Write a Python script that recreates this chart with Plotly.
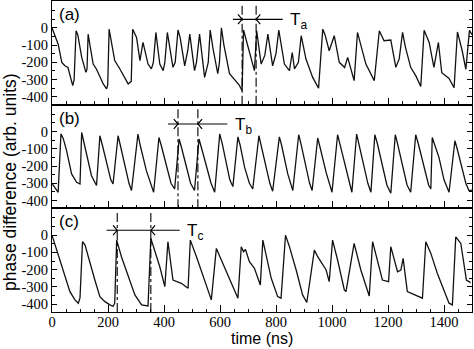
import plotly.graph_objects as go
from plotly.subplots import make_subplots

# ---------------- data (time in ns, phase difference in arb. units) ----------------
pts_a = [(0, 0), (11, -50), (22, -95), (35, -200), (46, -220), (57, -230), (66, -290), (74, -335),
         (79, -300), (86, -17), (92, -40), (106, -170), (121, -258), (125, -240), (129, -37),
         (135, -90), (147, -210), (159, -240), (171, -287), (183, -325), (195, -354), (199, -330),
         (204, -8), (210, -60), (224, -190), (242, -237), (260, -287), (272, -325), (283, -310),
         (288, -8), (302, -56), (314, -190), (325, -85), (343, -210), (355, -238), (362, -200),
         (371, -27), (385, -210), (397, -248), (403, -200), (412, -27), (420, -120), (432, -229),
         (440, -200), (450, -13), (458, -60), (474, -220), (485, -130), (492, -37), (509, -248),
         (516, -200), (527, -37), (533, -130), (545, -287), (558, -200), (565, -13), (575, -120),
         (592, -266), (598, -200), (605, 0), (614, -100), (634, -266), (668, -330), (679, -364),
         (684, -13), (692, -60), (705, -143), (723, -248), (731, -17), (747, -210), (760, -160),
         (771, -37), (788, -220), (800, -150), (810, -13), (818, -90), (830, -210), (848, -248),
         (858, -143), (866, -238), (880, -200), (890, -46), (907, -181), (931, -287), (952, -349),
         (967, -8), (975, -40), (990, -133), (1008, -46), (1026, -200), (1045, -230),
         (1056, -171), (1079, -306), (1091, -27), (1100, -80), (1121, -210), (1151, -306),
         (1169, -17), (1186, -75), (1210, -71), (1228, -229), (1240, -180), (1252, -27),
         (1262, -110), (1281, -229), (1300, -280), (1317, -340), (1329, -15), (1347, -85),
         (1364, -229), (1380, -85), (1392, -260), (1418, -293), (1436, -347), (1448, -24),
         (1465, -133), (1478, -240), (1491, -15), (1500, -40)]

pts_b = [(0, -300), (12, -330), (22, -352), (32, -13), (40, -40), (52, -111), (70, -246),
         (88, -294), (100, -304), (106, -6), (114, -60), (124, -130), (141, -256), (159, -313),
         (171, -25), (180, -80), (195, -188), (210, -280), (218, -304), (236, -25), (244, -80),
         (260, -188), (275, -300), (284, -342), (307, -15), (315, -80), (337, -227), (363, -352),
         (382, -35), (390, -80), (409, -208), (425, -300), (438, -333), (454, -44), (462, -90),
         (480, -208), (495, -300), (509, -342), (525, -44), (533, -90), (551, -198), (568, -300),
         (581, -352), (599, -15), (608, -70), (622, -169), (635, -280), (646, -319), (664, -31),
         (672, -80), (688, -208), (705, -300), (717, -333), (739, -25), (747, -80), (765, -208),
         (778, -300), (788, -346), (812, -31), (820, -80), (842, -246), (860, -342), (881, -19),
         (889, -70), (907, -198), (920, -300), (929, -342), (949, -38), (957, -90), (979, -237),
         (1000, -352), (1020, -19), (1028, -70), (1050, -208), (1062, -300), (1071, -352),
         (1088, -15), (1096, -70), (1115, -198), (1128, -300), (1139, -352), (1153, -19),
         (1162, -70), (1180, -208), (1196, -310), (1210, -358), (1226, -19), (1234, -70),
         (1252, -208), (1268, -310), (1281, -352), (1299, -19), (1308, -70), (1329, -208),
         (1345, -310), (1353, -333), (1358, -35), (1382, -150), (1400, -280), (1418, -352),
         (1439, -54), (1447, -100), (1465, -208), (1478, -300), (1489, -342), (1500, -340)]

pts_c = [(0, 0), (11, -58), (28, -144), (46, -240), (64, -327), (82, -375), (94, -394),
         (100, -364), (109, -38), (118, -58), (135, -163), (153, -260), (171, -356), (189, -385),
         (207, -404), (218, -413), (224, -394), (231, -29), (248, -125), (272, -240), (296, -346),
         (320, -404), (343, -410), (353, -19), (367, -96), (385, -183), (403, -298), (414, -38),
         (432, -260), (462, -279), (486, -308), (494, -29), (516, -125), (539, -231), (569, -375),
         (587, -77), (610, -163), (634, -250), (664, -365), (676, -67), (684, -96), (691, -83),
         (705, -154), (723, -192), (744, -289), (753, -29), (765, -125), (783, -250), (806, -356),
         (818, -365), (834, 0), (848, -67), (872, -202), (895, -346), (910, -390), (937, -87),
         (949, -125), (979, -202), (990, -269), (1002, -29), (1020, -144), (1044, -317),
         (1050, -327), (1079, -48), (1103, -202), (1133, -352), (1145, -38), (1162, -144),
         (1180, -260), (1202, -269), (1210, -67), (1234, -212), (1246, -202), (1254, -135),
         (1269, -327), (1323, -365), (1335, -38), (1353, -106), (1376, -221), (1418, -394),
         (1430, -404), (1442, -10), (1460, -48), (1480, -260), (1495, -275)]

panel_labels = ["(a)", "(b)", "(c)"]
period_labels = ["T<sub>a</sub>", "T<sub>b</sub>", "T<sub>c</sub>"]
period_marks = [(679, 729), (450, 521), (233, 353)]      # dashed lines / arrow tips
arrow_span = [(646, 824), (414, 626), (195, 456)]          # horizontal arrow line extent
arrow_level = [49, 43, 28]                                 # arrow height

y_tickvals = [-400, -300, -200, -100, 0]
y_ticktext = ["-400", "-300", "-200", "-100", "0"]
x_range = [0, 1500]
y_range = [-445, 155]

SERIF = "Liberation Serif"
SANS = "Liberation Sans"

# ---------------- figure ----------------
fig = make_subplots(rows=3, cols=1, shared_xaxes=True, vertical_spacing=0)

for i, pts in enumerate([pts_a, pts_b, pts_c]):
    t = [p[0] for p in pts]
    v = [p[1] for p in pts]
    fig.add_trace(go.Scatter(x=t, y=v, mode="lines",
                             line=dict(color="#111111", width=1.3),
                             showlegend=False, hoverinfo="skip"),
                  row=i + 1, col=1)

    # period markers: arrows pointing inward to the dashed lines
    p1, p2 = period_marks[i]
    s0, s1 = arrow_span[i]
    yl = arrow_level[i]
    dx, dy = 15, 28
    ax_x = [s0, s1, None, p1 - dx, p1, p1 - dx, None, p2 + dx, p2, p2 + dx]
    ax_y = [yl, yl, None, yl + dy, yl, yl - dy, None, yl + dy, yl, yl - dy]
    fig.add_trace(go.Scatter(x=ax_x, y=ax_y, mode="lines",
                             line=dict(color="black", width=1.2),
                             showlegend=False, hoverinfo="skip"),
                  row=i + 1, col=1)

    xr = "x" if i == 0 else f"x{i + 1}"
    yr = "y" if i == 0 else f"y{i + 1}"
    for p in (p1, p2):
        fig.add_shape(type="line", xref=xr, yref=f"{yr} domain", x0=p, x1=p, y0=0, y1=0.97,
                      line=dict(color="black", width=1.1, dash="dashdot"))

    fig.add_annotation(xref=xr, yref=yr, x=s1 + 20, y=yl, text=period_labels[i],
                       showarrow=False, xanchor="left", yanchor="middle", yshift=-2,
                       font=dict(family=SANS, size=17, color="black"))
    fig.add_annotation(xref=f"{xr} domain", yref=f"{yr} domain", x=0.012, y=0.87,
                       text=panel_labels[i], showarrow=False, xanchor="left", yanchor="middle",
                       font=dict(family=SANS, size=17, color="black"))

axis_common = dict(showline=True, linecolor="black", linewidth=1, mirror=True,
                   showgrid=False, zeroline=False, ticks="inside", tickcolor="black",
                   tickfont=dict(family=SERIF, size=14.5, color="black"))

for r in range(1, 4):
    fig.update_xaxes(range=x_range, dtick=200, tick0=0, ticklen=7, tickwidth=1,
                     ticklabelstandoff=-3,
                     minor=dict(dtick=50, ticklen=3.5, ticks="inside", tickcolor="black"),
                     row=r, col=1, **axis_common)
    fig.update_yaxes(range=y_range, tickvals=y_tickvals, ticktext=y_ticktext,
                     ticklen=5, tickwidth=1,
                     minor=dict(dtick=50, ticklen=3, ticks="inside", tickcolor="black"),
                     row=r, col=1, **{**axis_common, "mirror": "ticks"})

fig.add_annotation(xref="paper", yref="paper", x=0.5, y=-0.119, text="time (ns)",
                   showarrow=False, xanchor="center", yanchor="bottom",
                   font=dict(family=SANS, size=16, color="black"))
fig.add_annotation(xref="paper", yref="paper", x=-0.1, y=0.418,
                   text="phase difference (arb. units)", textangle=-90,
                   showarrow=False, xanchor="center", yanchor="middle",
                   font=dict(family=SANS, size=17.5, color="black"))

fig.update_layout(width=474, height=349, margin=dict(l=52, r=2, t=1, b=37),
                  plot_bgcolor="white", paper_bgcolor="white", showlegend=False)

fig.write_html("out.html")
